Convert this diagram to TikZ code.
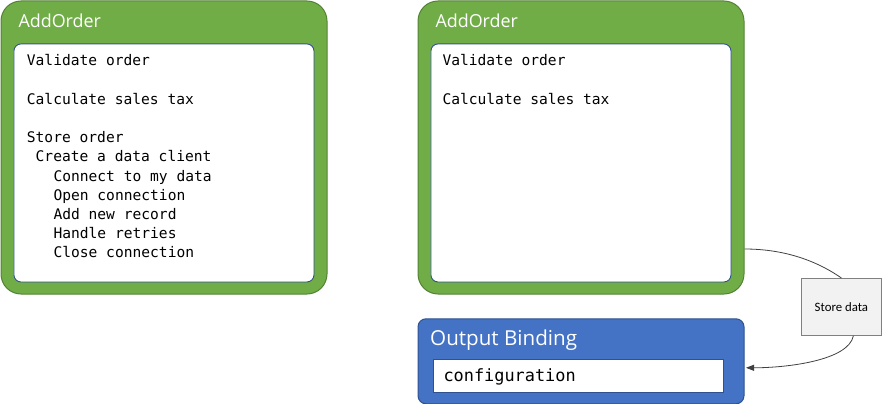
\documentclass[tikz,border=0pt]{standalone}
\usepackage{fontspec}
\setmainfont{Open Sans}
\setmonofont{DejaVu Sans Mono}
\newfontfamily\calfont{Carlito}
\usetikzlibrary{arrows.meta}
\definecolor{grn}{HTML}{70AD47}
\definecolor{grnb}{HTML}{548235}
\definecolor{blu}{HTML}{4472C4}
\definecolor{blub}{HTML}{2F528F}
\definecolor{sdfill}{HTML}{F2F2F2}
\definecolor{sdline}{HTML}{808080}
\definecolor{conncol}{HTML}{404040}
\begin{document}
\begin{tikzpicture}[x=1pt,y=-1pt,
  outer/.style={draw=grnb, fill=grn, line width=1pt, rounded corners=20pt, inner sep=0pt, anchor=north west, minimum width=326pt, minimum height=293pt},
  innerbox/.style={draw=blub, fill=white, line width=0.9pt, rounded corners=7pt, inner sep=0pt, anchor=north west, minimum width=300pt, minimum height=238pt},
  bluebox/.style={draw=blub, fill=blu, line width=1pt, rounded corners=8pt, inner sep=0pt, anchor=north west},
  cfgbox/.style={draw=blub, fill=white, line width=0.6pt, inner sep=0pt, anchor=north west},
  sdbox/.style={draw=sdline, fill=sdfill, line width=0.8pt, inner sep=0pt, anchor=north west, font=\calfont\fontsize{12.8}{15}\selectfont},
  ttl/.style={anchor=base west, inner sep=0pt, text=white, font=\fontsize{17.9}{21}\selectfont},
  codeline/.style={anchor=base west, inner sep=0pt, font=\ttfamily\fontsize{14.6}{17}\selectfont},
  conn/.style={draw=conncol, line width=0.8pt}
]
\useasboundingbox (0,0) rectangle (892,404);
% left
\node[outer] (g1) at (0.5,0.5) {};
\node[innerbox] (w1) at (13.5,43.5) {};
\node[ttl] (t1) at (18.3,27.3) {AddOrder};
\node[codeline] (l1) at (26.7,66) {Validate order};
\node[codeline] (l2) at (26.7,104.5) {Calculate sales tax};
\node[codeline] (l3) at (26.7,142.7) {Store order};
\node[codeline] (l4) at (35.5,161.9) {Create a data client};
\node[codeline] (l5) at (53.3,181.1) {Connect to my data};
\node[codeline] (l6) at (53.3,200.3) {Open connection};
\node[codeline] (l7) at (53.3,219.5) {Add new record};
\node[codeline] (l8) at (53.3,238.7) {Handle retries};
\node[codeline] (l9) at (53.3,257.9) {Close connection};
% right
\node[outer] (g2) at (417.5,0.5) {};
\node[innerbox] (w2) at (430.5,43.5) {};
\node[ttl] (t2) at (435.3,27.3) {AddOrder};
\node[codeline] (r1) at (442.3,66) {Validate order};
\node[codeline] (r2) at (442.3,104.5) {Calculate sales tax};
% output binding
\node[bluebox, minimum width=326pt, minimum height=85pt] (ob) at (417.5,318.3) {};
\node[cfgbox, minimum width=290pt, minimum height=33pt] (cf) at (433.3,359) {};
\node[ttl, font=\fontsize{20.6}{24}\selectfont] (t3) at (430,345.7) {Output Binding};
\node[codeline, font=\ttfamily\fontsize{16.9}{20}\selectfont] (c1) at (443.3,381.5) {configuration};
% store data
\node[sdbox, minimum width=80pt, minimum height=57pt] (sd) at (801,278) {Store data};
% connectors
\draw[conn] ([yshift=-101.5pt]g2.east) .. controls +(45,0) and +(-20,-14) .. (sd.north);
\draw[conn, -{Triangle[length=8pt,width=6pt]}] ([xshift=12pt]sd.south) .. controls +(-5,25) and +(40,0) .. ([xshift=1.5pt,yshift=-6.5pt]ob.east);
\end{tikzpicture}
\end{document}
